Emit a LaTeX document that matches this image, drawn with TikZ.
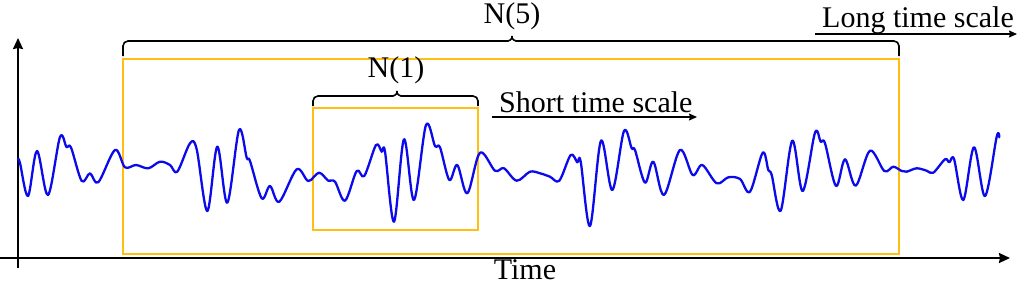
\documentclass[tikz,border=0pt]{standalone}
\usepackage{fontspec}
\setmainfont{Liberation Serif}
\usetikzlibrary{arrows.meta}
\definecolor{sigblue}{RGB}{10,10,235}
\definecolor{boxyellow}{RGB}{255,190,20}
\begin{document}
\begin{tikzpicture}[x=1pt,y=-1pt,
  axis/.style={line width=2pt,-{Stealth[length=11pt,width=10pt,inset=1pt]}},
  win/.style={draw=boxyellow,line width=2pt},
  sig/.style={draw=sigblue,line width=2.3pt,line join=round,line cap=round},
  brc/.style={draw=black,line width=1.6pt,rounded corners=5pt},
  lbl/.style={inner sep=0pt,font=\fontsize{30}{36}\selectfont},
  scalearrow/.style={line width=1.2pt,-{Stealth[length=8pt,width=7pt,inset=1pt]}}]
\useasboundingbox (0,0) rectangle (1018,284);
% axes
\coordinate (xs) at (0,258);
\coordinate (xe) at (1010,258);
\coordinate (ys) at (18,268);
\coordinate (ye) at (18,38);
\draw[axis] (xs) -- (xe);
\draw[axis] (ys) -- (ye);
% windows
\draw[win] (123,59) rectangle (899,254);
\draw[win] (313,108) rectangle (478,230);
% signal
\draw[sig] plot[smooth,tension=0.55] coordinates {
(18,159) (20,163) (28,196) (37,151) (48,195) (60,137) (66.5,147) (71,147.5)
(81.7,181) (90,173.3) (98.3,182.3) (115,150) (125,167.3) (136,165) (148.3,168.3)
(160,161.7) (170,165) (177.3,171.7) (190,143.3) (196.7,149.3) (207.3,211)
(217.3,146.7) (227.3,202.7) (239,130) (246.7,157.7) (250,161) (261.7,198.3)
(270,186) (279.3,201.7) (296.7,169.3) (308.3,181) (319,172.7) (328.3,180.7)
(335,181.7) (345,200.7) (356.7,171) (364.3,176) (376,145) (381.7,151.7)
(385,151.7) (394,221.7) (404,139.3) (414,200) (426,125) (435,146) (440,147.3)
(449.3,180) (457.3,165) (467.3,193.3) (480,152.7) (495,170.7) (504,168.3)
(516.7,180.7) (530,171.7) (540,173.3) (550,176.7) (559.3,180.7) (570.7,155)
(577.3,162.3) (580.7,161.7) (590,226) (601,140.7) (612.3,190) (624,131)
(631.7,148.3) (635,150) (645,182.7) (653.3,161.7) (664,195) (680,150)
(692.7,175) (702.3,165) (716.7,183.3) (728.3,177.3) (740,179) (750,191.7)
(762.7,152.7) (768.3,170) (771.7,175) (780.7,210.7) (792.3,140.7) (802.7,191)
(815,132.7) (820.7,141.7) (825,143.3) (836,186) (845,159.3) (855.7,185.7)
(870,150.7) (884.3,171) (893.3,166.7) (901.7,171) (906.7,171.7) (916.7,168.3)
(926.7,170.7) (933.3,172.7) (945,159.3) (949.3,162.3) (954,159) (963.3,200)
(974,147.3) (985,196) (996.7,136.7) (999.3,137.3)};
% braces
\draw[brc] (123,56) -- (123,41) -- (503,41)
  .. controls (509,41) and (512,39) .. (512,33)
  .. controls (512,39) and (515,41) .. (521,41) -- (899,41) -- (899,56);
\draw[brc] (313,106) -- (313,96) -- (388,96)
  .. controls (394,96) and (397,94) .. (397,88)
  .. controls (397,94) and (400,96) .. (406,96) -- (478,96) -- (478,106);
% labels
\node[lbl,anchor=base] (n5) at (512,23) {N(5)};
\node[lbl,anchor=base] (n1) at (396,77) {N(1)};
\node[lbl,anchor=base west] (short) at (499,112) {Short time scale};
\node[lbl,anchor=base west] (long) at (822,27) {Long time scale};
\node[lbl,anchor=base] (time) at (525,279.5) {Time};
% scale arrows
\coordinate (sa) at (492,117);
\coordinate (sb) at (697,117);
\coordinate (la) at (815,34);
\coordinate (lb) at (1017,34);
\draw[scalearrow] (sa) -- (sb);
\draw[scalearrow] (la) -- (lb);
\end{tikzpicture}
\end{document}
